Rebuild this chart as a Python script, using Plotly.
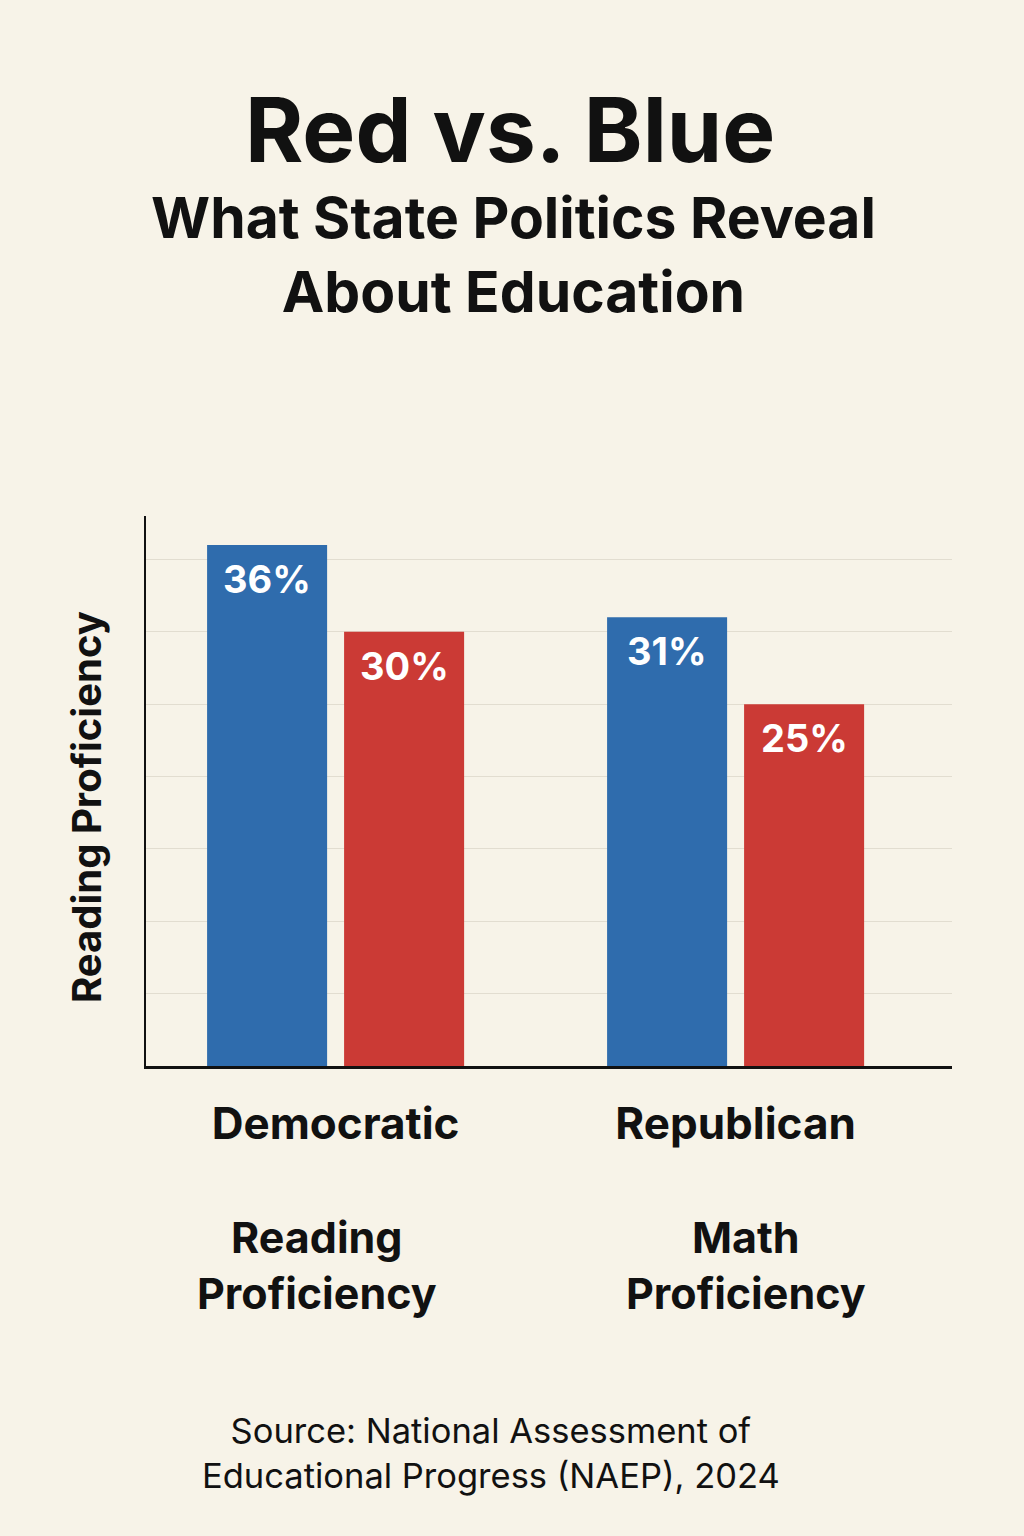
import plotly.graph_objects as go

# ---- data ----
categories = ["Democratic", "Republican"]
blue_values = [36, 31]
red_values = [30, 25]
sub_labels = ["Reading<br>Proficiency", "Math<br>Proficiency"]
y_title = "Reading Proficiency"
title_main = "Red vs. Blue"
title_sub = "What State Politics Reveal<br>About Education"
source_text = "Source: National Assessment of<br>Educational Progress (NAEP), 2024"

BG = "#F7F3E8"
BLUE = "#2F6CAD"
RED = "#CB3A35"
FONT = "Inter"

W, H = 1024, 1536
L, R, T, B = 146, 72, 516, 470
plot_h = H - T - B


def py(pix):
    """convert pixel y (from top) to paper coordinate"""
    return (H - B - pix) / plot_h


def px(pix):
    return (pix - L) / (W - L - R)


fig = go.Figure()
fig.add_trace(go.Bar(x=categories, y=blue_values, name="Blue",
                     marker=dict(color=BLUE, line=dict(width=0))))
fig.add_trace(go.Bar(x=categories, y=red_values, name="Red",
                     marker=dict(color=RED, line=dict(width=0))))

annotations = []
# value labels inside bars
for vals, shift in ((blue_values, -68.5), (red_values, 68.5)):
    for c, v in zip(categories, vals):
        annotations.append(dict(
            x=c, y=v, xref="x", yref="y", text=f"{v}%", showarrow=False,
            xshift=shift, yshift=-9, yanchor="top", xanchor="center",
            font=dict(family=FONT, size=38, color="white", weight="bold")))

# sub labels under category labels
for c, s, xs in zip(categories, sub_labels, (-19, 10)):
    annotations.append(dict(
        x=c, y=py(1265), xref="x", yref="paper", text=s, showarrow=False,
        xshift=xs, yanchor="middle", xanchor="center", align="center",
        font=dict(family=FONT, size=43, color="#111111", weight="bold")))

# y axis title
annotations.append(dict(
    x=px(86), y=py(807), xref="paper", yref="paper", text=y_title,
    showarrow=False, textangle=-90, xanchor="center", yanchor="middle",
    font=dict(family=FONT, size=40, color="#111111", weight="bold")))

# titles
annotations.append(dict(
    x=px(510), y=py(130), xref="paper", yref="paper", text=title_main,
    showarrow=False, xanchor="center", yanchor="middle",
    font=dict(family=FONT, size=89, color="#111111", weight="bold")))
annotations.append(dict(
    x=px(513), y=py(255), xref="paper", yref="paper", text=title_sub,
    showarrow=False, xanchor="center", yanchor="middle", align="center",
    font=dict(family=FONT, size=57, color="#111111", weight="bold")))
# source
annotations.append(dict(
    x=px(491), y=py(1453), xref="paper", yref="paper", text=source_text,
    showarrow=False, xanchor="center", yanchor="middle", align="center",
    font=dict(family=FONT, size=34.5, color="#111111")))

fig.update_layout(
    width=W, height=H, autosize=False,
    margin=dict(l=L, r=R, t=T, b=B, pad=0),
    paper_bgcolor=BG, plot_bgcolor=BG,
    barmode="group", bargap=0.315, bargroupgap=0.124,
    showlegend=False,
    annotations=annotations,
    font=dict(family=FONT, color="#111111"),
)
fig.update_xaxes(
    range=[-0.474, 1.541], showline=True, linecolor="#111111", linewidth=3,
    showgrid=False, ticks="", ticklabelstandoff=17,
    tickfont=dict(family=FONT, size=44, color="#111111", weight="bold"),
    automargin=False,
)
fig.update_yaxes(
    range=[0, 38], dtick=5, showline=True, linecolor="#111111", linewidth=2,
    showgrid=True, gridcolor="#E2DDD0", gridwidth=1, showticklabels=False,
    ticks="", zeroline=False, automargin=False,
)

fig.write_html("out.html")
